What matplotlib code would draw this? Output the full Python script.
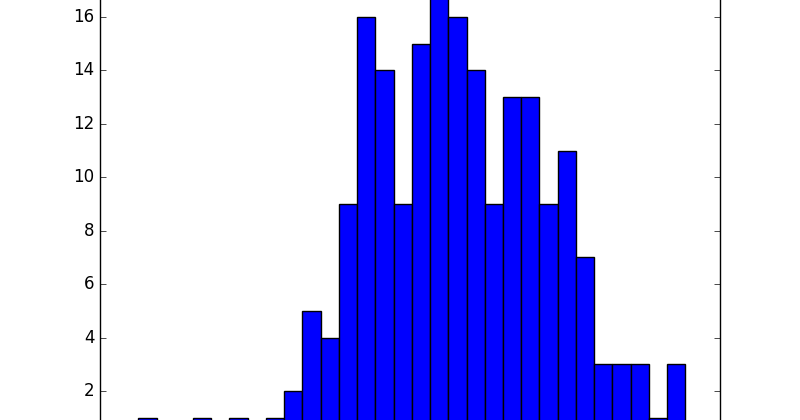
import matplotlib
matplotlib.use("Agg")
import matplotlib.pyplot as plt

plt.style.use("classic")

# histogram counts per bin (30 equal-width bins)
counts = [1, 0, 0, 1, 0, 1, 0, 1, 2, 5, 4, 9, 16, 14, 9, 15, 17, 16, 14, 9,
          13, 13, 9, 11, 7, 3, 3, 3, 1, 3]
bin_edges = list(range(31))
y_ticks = [2, 4, 6, 8, 10, 12, 14, 16]

fig = plt.figure(figsize=(8, 4.2), dpi=100, facecolor="white")
# axes extends beyond the canvas (reference is a crop)
ax = fig.add_axes([100 / 800, -24.5 / 420, 620 / 800, 481 / 420])
ax.hist(bin_edges[:-1], bins=bin_edges, weights=counts, color="blue",
        edgecolor="black", linewidth=1.0)
ax.set_xlim(-2.10, 31.90)
ax.set_ylim(0, 18)
ax.set_yticks(y_ticks)
ax.tick_params(axis="y", labelsize=12)
ax.tick_params(axis="x", labelbottom=False, labeltop=False)
fig.savefig("out.png", dpi=100, facecolor="white")
